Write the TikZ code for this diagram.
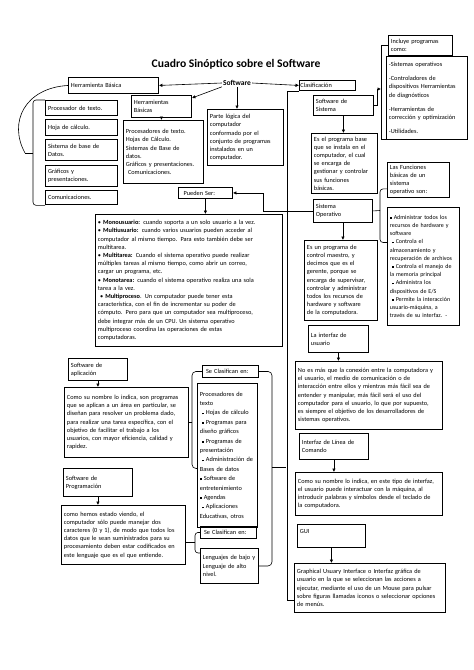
\documentclass[tikz,border=0pt]{standalone}
\usepackage{fontspec}
\setmainfont{Carlito}
\usetikzlibrary{arrows.meta,positioning}
\newcommand{\sq}{\raisebox{0.6pt}{\rule{1.8pt}{1.8pt}}}
\tikzset{
  box/.style={draw, line width=0.9pt, anchor=north west, align=left, inner sep=2.5pt,
    font=\fontsize{6.3}{8.2}\selectfont},
  sz/.style 2 args={text width=#1, minimum height=#2},
  conn/.style={line width=0.6pt},
  arr/.style={conn, -{Latex[length=3.5pt,width=3.5pt]}},
}

\begin{document}
\begin{tikzpicture}[x=1pt,y=-1pt]
\useasboundingbox[fill=white] (0,0) rectangle (474,670);

\node[font=\bfseries\fontsize{11.6}{14}\selectfont] (title) at (236,64) {Cuadro Sinóptico sobre el Software};
\node[font=\bfseries\fontsize{7.5}{9}\selectfont, inner sep=1pt] (sw) at (237,83) {Software};

% herramientas
\node[box, sz={85}{16}] (hb) at (68,77) {Herramienta Básica};
\node[box, sz={55}{22}] (hbs) at (131,95) {Herramientas\\Básicas};
\node[box, sz={75}{63}] (hlist) at (123,120) {Procesadores de texto.\\Hojas de Cálculo.\\Sistemas de Base de\\datos.\\Gráficos y presentaciones.\\\ Comunicaciones.};
\node[box, line width=1.3pt, sz={67}{15}] (p1) at (45,100) {Procesador de texto.};
\node[box, line width=1.3pt, sz={67}{16}] (p2) at (45,119) {Hoja de cálculo.};
\node[box, line width=1.3pt, sz={67}{21}] (p3) at (45,139) {Sistema de base de\\Datos.};
\node[box, line width=1.3pt, sz={67}{21}] (p4) at (45,165) {Gráficos y\\presentaciones.};
\node[box, line width=1.3pt, sz={67}{14}] (p5) at (45,190) {Comunicaciones.};
\node[box, sz={71}{56}] (pl) at (207,109) {Parte lógica del\\computador\\conformado por el\\conjunto de programas\\instalados en un\\computador.};

% clasificacion
\node[box, inner sep=1pt, sz={54}{10}] (cl) at (299,80) {Clasificación};
\node[box, sz={59}{20}] (inc) at (388,35) {Incluye programas\\como:};
\node[box, sz={76}{83}] (ilist) at (386,56) {-Sistemas operativos\\[6pt]-Controladores de\\dispositivos Herramientas\\de diagnósticos\\[6pt]-Herramientas de\\corrección y optimización\\[6pt]-Utilidades.};
\node[box, sz={55}{20}] (ss) at (313,95) {Software de\\Sistema};
\node[box, sz={61}{60}] (ssd) at (311,133) {Es el programa base\\que se instala en el\\computador, el cual\\se encarga de\\gestionar y controlar\\sus funciones\\básicas.};
\node[box, sz={57}{32}] (lf) at (387,162) {Las Funciones\\básicas de un\\sistema\\operativo son:};
\node[box, sz={54}{23}] (so) at (313,199) {Sistema\\Operativo};
\node[box, sz={67}{118}, font=\fontsize{6}{8.2}\selectfont] (flist) at (387,207) {\sq\ Administrar todos los\\recursos de hardware y\\software\\\ \sq\ Controla el\\almacenamiento y\\recuperación de archivos\\\ \sq\ Controla el manejo de\\la memoria principal\\\ \sq\ Administra los\\dispositivos de E/S\\\ \sq\ Permite la interacción\\usuario-máquina, a\\través de su interfaz. -};
\node[box, sz={68}{80}] (sod) at (304,240) {Es un programa de\\control maestro, y\\decimos que es el\\gerente, porque se\\encarga de supervisar,\\controlar y administrar\\todos los recursos de\\hardware y software\\de la computadora.};
\node[box, sz={55}{27}] (liu) at (308,325) {La interfaz de\\usuario};
\node[box, sz={142}{68}] (nes) at (295,361) {No es más que la conexión entre la computadora y\\el usuario, el medio de comunicación o de\\interacción entre ellos y mientras más fácil sea de\\entender y manipular, más fácil será el uso del\\computador para el usuario, lo que por supuesto,\\es siempre el objetivo de los desarrolladores de\\sistemas operativos.};
\node[box, sz={64}{26}] (icl) at (299,433) {Interfaz de Línea de\\Comando};
\node[box, sz={142}{43}] (cmd) at (295,472) {Como su nombre lo indica, en este tipo de interfaz,\\el usuario puede interactuar con la máquina, al\\introducir palabras y símbolos desde el teclado de\\la computadora.};
\node[box, sz={63}{23}] (gui) at (297,524) {GUI\\\mbox{}};
\node[box, sz={146}{49}] (guid) at (294,563) {Graphical Usuary Interface o Interfaz gráfica de\\usuario en la que se seleccionan las acciones a\\ejecutar, mediante el uso de un Mouse para pulsar\\sobre figuras llamadas iconos o seleccionar opciones\\de menús.};

% pueden ser
\node[box, inner sep=1pt, sz={52}{11}] (ps) at (178,187) {\ \ Pueden Ser:};
\node[box, sz={182}{132}] (pbox) at (95,214) {\textbullet\ \textbf{Monousuario:} cuando soporta a un solo usuario a la vez.\\
\textbullet\ \textbf{Multiusuario:} cuando varios usuarios pueden acceder al\\
computador al mismo tiempo. Para esto también debe ser\\
multitarea.\\
\textbullet\ \textbf{Multitarea:} Cuando el sistema operativo puede realizar\\
múltiples tareas al mismo tiempo, como abrir un correo,\\
cargar un programa, etc.\\
\textbullet\ \textbf{Monotarea:} cuando el sistema operativo realiza una sola\\
tarea a la vez.\\
\ \textbullet\ \textbf{Multiproceso}. Un computador puede tener esta\\
característica, con el fin de incrementar su poder de\\
cómputo. Pero para que un computador sea multiproceso,\\
debe integrar más de un CPU. Un sistema operativo\\
multiproceso coordina las operaciones de estas\\
computadoras.};

% aplicacion y programacion
\node[box, sz={54}{22}] (sapp) at (68,358) {Software de\\aplicación};
\node[box, sz={119}{70}] (appd) at (64,387) {Como su nombre lo indica, son programas\\que se aplican a un área en particular, se\\diseñan para resolver un problema dado,\\para realizar una tarea específica, con el\\objetivo de facilitar el trabajo a los\\usuarios, con mayor eficiencia, calidad y\\rapidez.};
\node[box, sz={64}{28}] (sprog) at (63,468) {Software de\\Programación};
\node[box, sz={119}{59}] (progd) at (61,505) {como hemos estado viendo, el\\computador sólo puede manejar dos\\caracteres (0 y 1), de modo que todos los\\datos que le sean suministrados para su\\procesamiento deben estar codificados en\\este lenguaje que es el que entiende.};
\node[box, sz={53}{12}, inner sep=1.5pt] (sc1) at (202,365) {\ Se Clasifican en:};
\node[box, sz={55}{144}, font=\fontsize{6.3}{9.4}\selectfont] (slist) at (197,383) {Procesadores de\\texto\\\ \sq\ Hojas de cálculo\\\ \sq\ Programas para\\diseño gráficos\\\ \sq\ Programas de\\presentación\\\ \sq\ Administración de\\Bases de datos\\\sq\ Software de\\entretenimiento\\\sq\ Agendas\\\ \sq\ Aplicaciones\\Educativas, otros};
\node[box, sz={53}{12}, inner sep=1.5pt] (sc2) at (200,526) {\ Se Clasifican en:};
\node[box, sz={53}{35}] (lang) at (200,548) {Lenguajes de bajo y\\Lenguaje de alto\\nivel.};

% connectors
\coordinate (bl) at (33,153);
\coordinate (btip) at (25,153);
\coordinate (ibr) at (381,89);
\coordinate (sob) at (380,210.5);
\coordinate (rb) at (272,467);
\coordinate (lb1) at (192,422);
\coordinate (lb2) at (195,542);

\draw[arr] (sw.west) -- (hb.east);
\draw[arr] (sw.south west) -- ([yshift=-3pt]hbs.north east);
\draw[arr] (sw.south) -- (sw.south |- pl.north);
\draw[arr] (sw.east) -- (cl.west);
\draw[arr] (hbs.south) -- (hbs.south |- hlist.north);
\draw[conn, rounded corners=3pt] (p1.north west) -| (bl) |- (p5.south west);
\draw[conn] (bl) -- (btip);
\draw[conn] (hb.west) .. controls (25,88) and (8,122) .. (btip);

\draw[arr] (ps.south) -- (ps.south |- pbox.north);
\draw[arr] (so.west) -- ++(-50,0) |- (ps.east);

\draw[conn] (inc.west) -- ++(-7,0) |- ([yshift=1pt]ilist.south west);
\draw[arr] (ss.east) -- ++(3,0) |- (ibr);
\draw[arr] (ss.south) -- (ss.south |- ssd.north);
\draw[conn, rounded corners=3pt] ([yshift=-9pt]lf.west) -| (sob) |- ([yshift=24pt]flist.west);
\draw[conn] (so.east) -- (sob);
\draw[arr] (so.south) -- (so.south |- sod.north);
\draw[arr] (liu.south) -- (liu.south |- nes.north);
\draw[arr] (icl.south) -- (icl.south |- cmd.north);
\draw[arr] (gui.south) -- (gui.south |- guid.north);
\draw[conn] (cl.south west) -- ++(-12,0) |- ([yshift=-12pt]guid.west);

\draw[arr] (sapp.south) -- (sapp.south |- appd.north);
\draw[arr] (sprog.south) -- (sprog.south |- progd.north);
\draw[conn, rounded corners=4pt] (sc1.east) -| (rb) |- (lang.east);
\draw[conn] (rb) -- ++(14,0);
\draw[conn, rounded corners=4pt] (sc1.west) -| (lb1) |- ([yshift=-13pt]slist.west);
\draw[conn] (lb1) -- (appd.east |- lb1);
\draw[conn, rounded corners=3pt] (sc2.west) -| (lb2) |- ([yshift=13pt]lang.west);
\draw[conn] (lb2) -- (progd.east |- lb2);
\end{tikzpicture}
\end{document}
